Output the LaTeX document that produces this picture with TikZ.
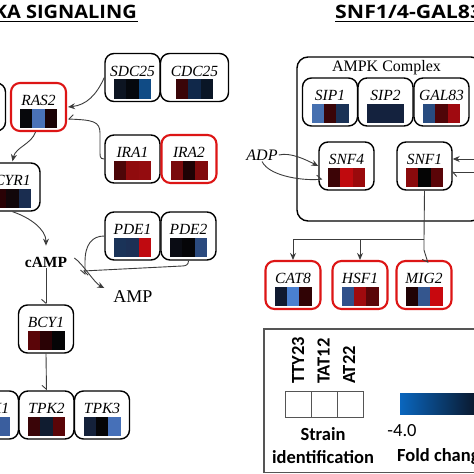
\documentclass[tikz,border=0pt]{standalone}
\usepackage{fontspec}
\setmainfont{Liberation Serif}
\newfontfamily\legfont{Carlito}
\newfontfamily\ttlfont{Open Sans}
\usetikzlibrary{calc,arrows.meta}
\definecolor{boxred}{HTML}{DD1515}
\definecolor{lineg}{HTML}{3C3C3C}
\definecolor{leggray}{HTML}{555555}
\definecolor{cbL}{HTML}{0A66BE}
\definecolor{cbR}{HTML}{0A1A30}
\tikzset{
  gbox/.style={draw=black, line width=1.4pt, rounded corners=9pt, minimum width=55pt, minimum height=48pt, inner sep=0pt, fill=white},
  redbox/.style={draw=boxred, line width=2.1pt},
  glabel/.style={font=\itshape\fontsize{15.5}{17}\selectfont, anchor=base, inner sep=0pt},
  arr/.style={draw=lineg, line width=0.9pt, -{Stealth[length=7pt,width=6pt]}},
  inh/.style={draw=lineg, line width=0.9pt, -{Straight Barb[harpoon,swap,length=4pt,width=9pt]}},
  inhb/.style={draw=lineg, line width=0.9pt, -{Straight Barb[harpoon,length=4pt,width=9pt]}},
  plain/.style={draw=lineg, line width=0.9pt},
  ttl/.style={font=\ttlfont\bfseries\fontsize{18.5}{21}\selectfont, inner sep=0pt},
  leg/.style={font=\legfont\bfseries\fontsize{18.5}{20}\selectfont, inner sep=0pt},
  sbox/.style={draw=leggray, line width=1pt, minimum width=26pt, minimum height=26pt, inner sep=0pt}
}
\newcommand{\gene}[8]{%
  \node[gbox,#8] (#1) at (#2,#3) {};
  \definecolor{hmA}{HTML}{#5}\definecolor{hmB}{HTML}{#6}\definecolor{hmC}{HTML}{#7}%
  \fill[hmA] ($(#1.center)+(-18.5,1.5)$) rectangle ++(12.4,19.5);
  \fill[hmB] ($(#1.center)+(-6.1,1.5)$) rectangle ++(12.3,19.5);
  \fill[hmC] ($(#1.center)+(6.2,1.5)$) rectangle ++(12.3,19.5);
  \node[glabel] (#1-l) at ($(#1.center)+(0,-1.5)$) {#4};
}
\begin{document}
\begin{tikzpicture}[x=1pt,y=-1pt]
\useasboundingbox (0,0) rectangle (474,474);
\clip (0,0) rectangle (474,474);
\fill[white] (0,0) rectangle (474,474);

% titles
\node[ttl, anchor=base east, xscale=1.08] (t1) at (137,18) {PKA SIGNALING};
\draw[line width=1.4pt] (0,21.5) -- (138,21.5);
\node[ttl, anchor=base west, xscale=1.15] (t2) at (335,18) {SNF1/4-GAL83};
\draw[line width=1.4pt] (335,21.5) -- (474,21.5);

% AMPK complex frame
\draw[line width=1.4pt, rounded corners=11pt] (297,57) rectangle (482,221);
\node[font=\fontsize{16}{18}\selectfont, inner sep=0pt] (ampk) at (386.5,68) {AMPK Complex};

% left column
\node[gbox] (ras1) at (-22,107) {};
\gene{ras2}{38.5}{107}{RAS2}{07080C}{4A72B8}{1A0205}{redbox}
\gene{sdc25}{132.5}{77.5}{SDC25}{0D1522}{05080D}{104B85}{}
\gene{cdc25}{194.5}{77.5}{CDC25}{3A0508}{10284A}{0A1626}{minimum width=68pt}
\gene{ira1}{132.5}{159}{IRA1}{4D0608}{900B0D}{940C0F}{}
\gene{ira2}{189}{159}{IRA2}{7A0A0C}{1E0204}{800A0C}{redbox}
\gene{cyr1}{12.5}{187}{CYR1}{2A0205}{12070A}{1A2D50}{}
\gene{pde1}{132.5}{236}{PDE1}{1A3358}{1C3055}{C00A10}{}
\gene{pde2}{188.5}{236}{PDE2}{0A0C14}{050508}{2B4A7E}{}
\gene{bcy1}{46}{329}{BCY1}{5A0508}{2A0205}{050506}{}
\gene{tpk1}{-9}{415}{TPK1}{101C30}{07080C}{3A5E9E}{}
\gene{tpk2}{46.5}{415}{TPK2}{3A0508}{101C30}{5A0508}{}
\gene{tpk3}{102}{415}{TPK3}{14213A}{050507}{4670B8}{}

\node[font=\bfseries\fontsize{15.5}{17}\selectfont, inner sep=1pt] (camp) at (46,262) {cAMP};
\node[font=\fontsize{18}{20}\selectfont, inner sep=0pt] (amp) at (133,297) {AMP};

% right column
\gene{sip1}{330}{102}{SIP1}{4670B0}{3A0508}{1A3256}{}
\gene{sip2}{385.5}{102}{SIP2}{14223E}{14223E}{14223E}{}
\gene{gal83}{441.5}{102}{GAL83}{284C80}{500508}{A00A10}{}
\gene{snf4}{346.5}{166}{SNF4}{3C0406}{C00A0E}{9A0A0C}{}
\gene{snf1}{424.5}{166}{SNF1}{8A0A0C}{050505}{5A0508}{}
\gene{cat8}{293}{285}{CAT8}{101A30}{4A80D0}{300305}{redbox}
\gene{hsf1}{360}{285}{HSF1}{30508A}{A00A0E}{5A0508}{redbox}
\gene{mig2}{424}{285}{MIG2}{200204}{34568E}{C8080E}{redbox}
\node[font=\itshape\fontsize{16}{18}\selectfont, inner sep=1pt] (adp) at (262,155) {ADP};

% connectors left
\draw[arr] (sdc25.west) .. controls +(-8,18) and +(18,-2) .. ($(ras2.east)+(1,0)$);
\draw[inh] (ira1.west) .. controls +(-5,0) and +(0,8) .. (100,148) -- (100,133) .. controls (100,121) and (92,120) .. ($(ras2.east)+(1,12)$);
\draw[arr] ($(ras2.south)+(-3,0)$) .. controls +(-4,12) and +(3,-14) .. ($(cyr1.north)+(0,-1)$);
\draw[arr] (cyr1.south) .. controls +(18,6) and +(0,-16) .. ($(camp.north)+(0,-10)$);
\draw[inh] (camp.south) -- (bcy1.north);
\draw[inh] (bcy1.south) -- (tpk2.north);
\coordinate (xpt) at (85,271);
\draw[arr] ($(camp.east)+(6,-4)$) .. controls +(8,5) and +(-10,-5) .. ($(amp.west)+(-9,-9)$);
\draw[inh] (pde1.west) .. controls +(-12,0) and +(0,-18) .. (85,262) -- ($(xpt)+(0,4)$);
\draw[inhb] (pde2.south) .. controls +(0,4) and +(4,0) .. (182,266) -- ($(xpt)+(-2,0)$);

% connectors right
\coordinate (r1) at (480,159);
\coordinate (r2) at (480,172);
\draw[arr] (r1) -- (r1 -| snf1.east);
\draw[inhb] (r2) -- ($(r2 -| snf1.east)+(-1,0)$);
\draw[arr] (adp.east) .. controls +(12,-3) and +(-12,-6) .. (snf4.west);
\draw[inhb] (adp.south) .. controls +(8,16) and +(-15,2) .. ($(snf4.west)+(4,13)$);
\coordinate (j) at (424,239);
\draw[plain] (snf1.south |- snf1.south) -- (j);
\draw[arr] (j) -| (cat8.north);
\draw[arr] (hsf1.north |- j) -- (hsf1.north);
\draw[inh] (j) -- (424,250) -- ($(mig2.north)+(4,3)$);

% legend
\draw[draw=leggray, line width=1.3pt] (264,329) rectangle (490,472.5);
\node[leg, rotate=90, anchor=west] (l1) at (298,384) {TTY23};
\node[leg, rotate=90, anchor=west] (l2) at (323.5,384) {TAT12};
\node[leg, rotate=90, anchor=west] (l3) at (349,384) {AT22};
\node[sbox] (s1) at (298,404) {};
\node[sbox] (s2) at (324,404) {};
\node[sbox] (s3) at (350,404) {};
\node[leg] (strain) at (323,434) {Strain};
\node[leg] (ident) at (323,457) {identification};
\shade[left color=cbL, right color=cbR] (400,393) rectangle (474,414);
\node[font=\legfont\fontsize{18.5}{20}\selectfont, inner sep=0pt] (m4) at (402,431) {-4.0};
\node[leg, anchor=west] (fold) at (397,457) {Fold change};
\end{tikzpicture}
\end{document}
